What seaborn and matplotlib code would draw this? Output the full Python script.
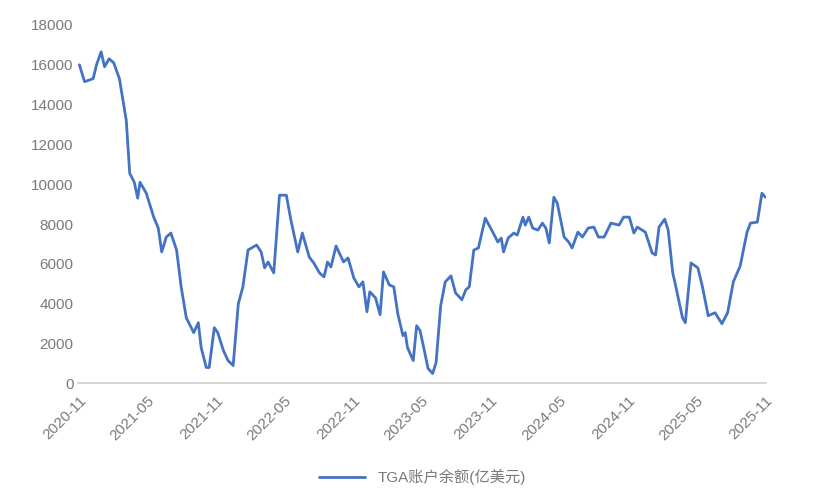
import pandas as pd
import numpy as np
import matplotlib
matplotlib.use('Agg')
import matplotlib.pyplot as plt
import seaborn as sns

# months elapsed since 2020-11 and TGA balance (亿美元)
months = [0, 0.45, 1.2, 1.5, 1.9, 2.2, 2.6, 3.0, 3.5, 4.1, 4.4, 4.8, 5.1, 5.3, 5.85, 6.5, 6.9, 7.2,
          7.6, 8.0, 8.5, 8.9, 9.35, 10.0, 10.4, 10.65, 11.1, 11.35, 11.8, 12.1, 12.6, 13.0, 13.45,
          13.9, 14.3, 14.75, 15.5, 15.9, 16.2, 16.5, 17.0, 17.5, 18.1, 18.5, 19.1, 19.5, 20.1, 20.5,
          21.0, 21.4, 21.7, 22.0, 22.45, 23.1, 23.5, 24.0, 24.45, 24.8, 25.15, 25.4, 25.9, 26.3,
          26.6, 27.1, 27.5, 27.85, 28.3, 28.5, 28.7, 29.2, 29.5, 29.8, 30.5, 30.9, 31.2, 31.6,
          32.0, 32.5, 32.9, 33.45, 33.8, 34.1, 34.5, 34.9, 35.5, 36.2, 36.6, 36.9, 37.1, 37.5,
          38.0, 38.3, 38.8, 39.0, 39.3, 39.65, 40.1, 40.5, 40.8, 41.1, 41.5, 41.8, 42.4, 42.8,
          43.1, 43.6, 44.0, 44.5, 45.0, 45.4, 45.9, 46.5, 47.2, 47.6, 48.1, 48.5, 48.8, 49.5,
          50.1, 50.4, 50.7, 51.2, 51.5, 51.9, 52.1, 52.75, 53.0, 53.5, 54.1, 54.5, 55.0, 55.6,
          56.2, 56.7, 57.2, 57.8, 58.4, 58.7, 59.3, 59.7, 60.0]
tga = [16000, 15150, 15300, 16000, 16650, 15900, 16300, 16100, 15300, 13200, 10550, 10100, 9300,
       10100, 9550, 8350, 7800, 6600, 7350, 7550, 6700, 4850, 3300, 2550, 3050, 1800, 800, 800,
       2800, 2550, 1650, 1150, 900, 4000, 4850, 6700, 6950, 6600, 5800, 6100, 5550, 9450, 9450,
       8200, 6600, 7550, 6350, 6050, 5550, 5350, 6100, 5850, 6900, 6100, 6300, 5300, 4850, 5100,
       3600, 4600, 4300, 3450, 5600, 4950, 4850, 3500, 2400, 2550, 1800, 1150, 2900, 2650, 750,
       500, 1050, 3900, 5100, 5400, 4550, 4200, 4700, 4850, 6700, 6800, 8300, 7550, 7100, 7300,
       6600, 7300, 7550, 7450, 8350, 7950, 8350, 7800, 7700, 8050, 7800, 7050, 9350, 9050, 7350,
       7100, 6800, 7600, 7350, 7800, 7850, 7350, 7350, 8050, 7950, 8350, 8350, 7550, 7850, 7600,
       6550, 6450, 7850, 8250, 7700, 5550, 5050, 3300, 3050, 6050, 5800, 4850, 3400, 3550, 3000,
       3550, 5100, 5900, 7600, 8050, 8100, 9550, 9350]
tick_labels = ['2020-11', '2021-05', '2021-11', '2022-05', '2022-11', '2023-05',
               '2023-11', '2024-05', '2024-11', '2025-05', '2025-11']

start = pd.Timestamp('2020-11-01')
dates = [start + pd.Timedelta(days=m * 30.44) for m in months]
df = pd.DataFrame({'date': dates, 'TGA账户余额(亿美元)': tga})

sns.set_theme(style='white')
plt.rcParams['font.family'] = ['Liberation Sans', 'Noto Sans CJK SC', 'DejaVu Sans']

fig, ax = plt.subplots(figsize=(8.24, 4.98), dpi=100)
fig.subplots_adjust(left=0.095, right=0.93, top=0.95, bottom=0.23)

sns.lineplot(data=df, x='date', y='TGA账户余额(亿美元)', ax=ax, color='#4472C4',
             linewidth=2.0, label='TGA账户余额(亿美元)')

ticks = [pd.Timestamp(t + '-01') for t in tick_labels]
ax.set_xticks(ticks)
ax.set_xticklabels(tick_labels, rotation=45, ha='right', rotation_mode='anchor',
                   fontsize=11, color='#7a7a7a')
ax.set_xlim(ticks[0] - pd.Timedelta(days=3), ticks[-1] + pd.Timedelta(days=3))
ax.set_ylim(0, 18000)
ax.set_yticks(np.arange(0, 18001, 2000))
ax.tick_params(axis='y', labelsize=11, colors='#7a7a7a', length=0)
ax.tick_params(axis='x', length=4, colors='#d0d0d0', labelcolor='#7a7a7a', direction='out')
ax.set_xlabel('')
ax.set_ylabel('')
for s in ['left', 'right', 'top']:
    ax.spines[s].set_visible(False)
ax.spines['bottom'].set_color('#d0d0d0')

ax.legend(loc='upper center', bbox_to_anchor=(0.5, -0.2), frameon=False, fontsize=11,
          labelcolor='#7a7a7a', handlelength=3)

fig.savefig('out.png', dpi=100)
